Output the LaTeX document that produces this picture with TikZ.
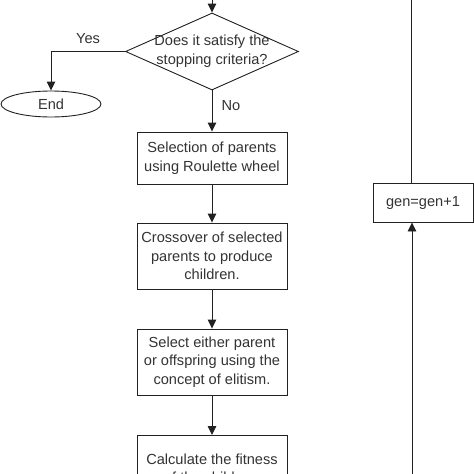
\documentclass[tikz,border=0pt]{standalone}
\usepackage{fontspec}
\setmainfont{Liberation Sans}
\usetikzlibrary{shapes.geometric,arrows.meta}
\definecolor{linec}{HTML}{222222}
\definecolor{textc}{HTML}{333333}
\tikzset{
  base/.style={draw=linec, line width=0.9pt, text=textc, font=\fontsize{14.6}{18.6}\selectfont, align=center, inner sep=0pt},
  procbox/.style={base, rectangle, minimum width=150pt, minimum height=66pt},
  decision/.style={base, diamond, aspect=2.25, inner xsep=-9pt, inner ysep=-3pt, minimum width=173pt, minimum height=77pt},
  terminal/.style={base, ellipse, minimum width=100pt, minimum height=26pt},
  lbl/.style={text=textc, font=\fontsize{14.6}{18.6}\selectfont, inner sep=0pt},
  conn/.style={draw=linec, line width=0.9pt},
  arr/.style={conn, -{Triangle[length=9pt,width=8.5pt]}}
}
\begin{document}
\begin{tikzpicture}[x=1pt,y=-1pt]
\useasboundingbox[fill=white] (0,0) rectangle (474,474);
\node[decision] (dec) at (212,51.5) {Does it satisfy the\\stopping criteria?};
\node[terminal] (end) at (51,104) {End};
\node[procbox, minimum height=52pt] (sel) at (212,158) {Selection of parents\\using Roulette wheel};
\node[procbox] (cross) at (212,256) {Crossover of selected\\parents to produce\\children.};
\node[procbox] (elit) at (212,362) {Select either parent\\or offspring using the\\concept of elitism.};
\node[procbox, anchor=north] (fit) at (212,435) {Calculate the fitness\\of the children.};
\node[base, rectangle, minimum width=100pt, minimum height=39pt] (gen) at (423,202.5) {gen=gen+1};
\coordinate (topin) at (212,-2);
\coordinate (yesc) at (51,51.5);
\coordinate (gentop) at (411,-2);
\coordinate (genbot) at (412,476);
\draw[arr] (topin) -- (dec.north);
\draw[arr] (dec.west) -- (yesc) -- (end.north);
\draw[arr] (dec.south) -- (sel.north);
\draw[arr] (sel.south) -- (cross.north);
\draw[arr] (cross.south) -- (elit.north);
\draw[arr] (elit.south) -- (fit.north);
\draw[conn] (gen.north -| gentop) -- (gentop);
\draw[arr] (genbot) -- (genbot |- gen.south);
\node[lbl] (yes) at (88,39) {Yes};
\node[lbl] (no) at (231,106) {No};
\end{tikzpicture}
\end{document}
